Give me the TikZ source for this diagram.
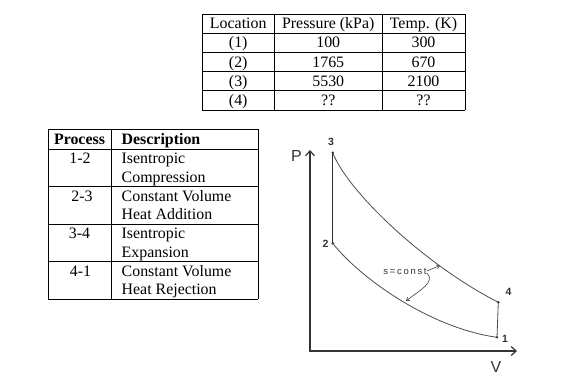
\documentclass[tikz,border=0pt]{standalone}
\usepackage{fontspec}
\setmainfont{Liberation Serif}
\newfontfamily\handfont{Liberation Sans}
\newfontfamily\constfont[LetterSpace=18]{Liberation Sans}
\usetikzlibrary{arrows.meta}
\begin{document}
\begin{tikzpicture}[x=1pt,y=-1pt,
  gridline/.style={line width=0.9pt, black},
  cell/.style={anchor=base, inner sep=0pt, font=\fontsize{15.9}{18}\selectfont},
  lcell/.style={anchor=base west, inner sep=0pt, font=\fontsize{15.9}{18}\selectfont},
  axisline/.style={line width=1.7pt, draw=black!80, -{Straight Barb[length=5pt,width=9pt,line width=1.2pt]}},
  curveline/.style={line width=0.8pt, draw=black!70},
  isoline/.style={line width=1pt, draw=black!80},
  ptdot/.style={circle, fill=black!80, inner sep=0pt, minimum size=2.8pt},
  ptlabel/.style={inner sep=0pt, font=\handfont\bfseries\fontsize{10.5}{12}\selectfont, text=black!80},
  axlabel/.style={inner sep=0pt, font=\handfont\fontsize{16}{18}\selectfont, text=black!80},
  noteline/.style={line width=0.6pt, draw=black!75},
  notearrow/.style={noteline, -{Straight Barb[length=3pt,width=4pt]}}]
\useasboundingbox (0,0) rectangle (565,381);

% ---------- top table ----------
\foreach \yy in {14,33,52.25,71.5,90.75,110} \draw[gridline] (202,\yy) -- (465,\yy);
\foreach \xx in {202,274.5,382,465} \draw[gridline] (\xx,14) -- (\xx,110);
\node[cell] (h1) at (238.25,28.7) {Location};
\node[cell] (h2) at (328.25,28.7) {Pressure (kPa)};
\node[cell] (h3) at (423.5,28.7) {Temp. (K)};
\node[cell] (a1) at (238.25,47.8) {(1)};
\node[cell] (b1) at (328.25,47.8) {100};
\node[cell] (c1) at (423.5,47.8) {300};
\node[cell] (a2) at (238.25,67.1) {(2)};
\node[cell] (b2) at (328.25,67.1) {1765};
\node[cell] (c2) at (423.5,67.1) {670};
\node[cell] (a3) at (238.25,86.3) {(3)};
\node[cell] (b3) at (328.25,86.3) {5530};
\node[cell] (c3) at (423.5,86.3) {2100};
\node[cell] (a4) at (238.25,105.6) {(4)};
\node[cell] (b4) at (328.25,105.6) {??};
\node[cell] (c4) at (423.5,105.6) {??};

% ---------- bottom table ----------
\foreach \yy in {129,149,186.5,224,261.5,299} \draw[gridline] (48,\yy) -- (258,\yy);
\foreach \xx in {48,111,258} \draw[gridline] (\xx,129) -- (\xx,299);
\node[cell, font=\fontsize{15.9}{18}\selectfont\bfseries] (ph) at (79.5,144.2) {Process};
\node[lcell, font=\fontsize{15.9}{18}\selectfont\bfseries] (dh) at (121.5,144.2) {Description};
\node[cell] (p1) at (80,163.7) {1-2};
\node[lcell] (d1a) at (121.5,163.7) {Isentropic};
\node[lcell] (d1b) at (121.5,182) {Compression};
\node[cell] (p2) at (82,201.2) {2-3};
\node[lcell] (d2a) at (121.5,201.2) {Constant Volume};
\node[lcell] (d2b) at (121.5,219.5) {Heat Addition};
\node[cell] (p3) at (79.5,238.7) {3-4};
\node[lcell] (d3a) at (121.5,238.7) {Isentropic};
\node[lcell] (d3b) at (121.5,257) {Expansion};
\node[cell] (p4) at (80.5,276.2) {4-1};
\node[lcell] (d4a) at (121.5,276.2) {Constant Volume};
\node[lcell] (d4b) at (121.5,294.5) {Heat Rejection};

% ---------- P-v diagram ----------
\coordinate (O) at (310,351);
\coordinate (Ptop) at (310,150);
\coordinate (Vend) at (517,351);
\draw[axisline] (310,352) -- (Ptop);
\draw[axisline] (309,351) -- (Vend);
\node[axlabel] (Plab) at (296.5,156) {P};
\node[axlabel] (Vlab) at (496,367) {V};

\node[ptdot] (s1) at (497,337.3) {};
\node[ptdot] (s2) at (332.7,243.3) {};
\node[ptdot] (s3) at (332.7,152.7) {};
\node[ptdot] (s4) at (498.3,302.3) {};
\node[ptlabel] (l1) at (505,339) {1};
\node[ptlabel] (l2) at (325.5,243.5) {2};
\node[ptlabel] (l3) at (331,142) {3};
\node[ptlabel] (l4) at (508.5,291.5) {4};

\draw[isoline] (s2.center) -- (s3.center);
\draw[curveline] (s4.center) -- (s1.center);
\draw[curveline] (s3.center) .. controls (348,192) and (425,265) .. (s4.center);
\draw[curveline] (s2.center) .. controls (360,278) and (430,328) .. (s1.center);

\node[inner sep=0pt, font=\constfont\fontsize{9.5}{11}\selectfont, text=black!80] (sc) at (405,271) {s=const};
\coordinate (t1) at (440,265.5);
\coordinate (t2) at (406,301);
\draw[notearrow] (sc.east) -- (t1);
\draw[notearrow] ([yshift=-2pt]sc.east) .. controls (436,282) and (420,290) .. (t2);
\end{tikzpicture}
\end{document}
